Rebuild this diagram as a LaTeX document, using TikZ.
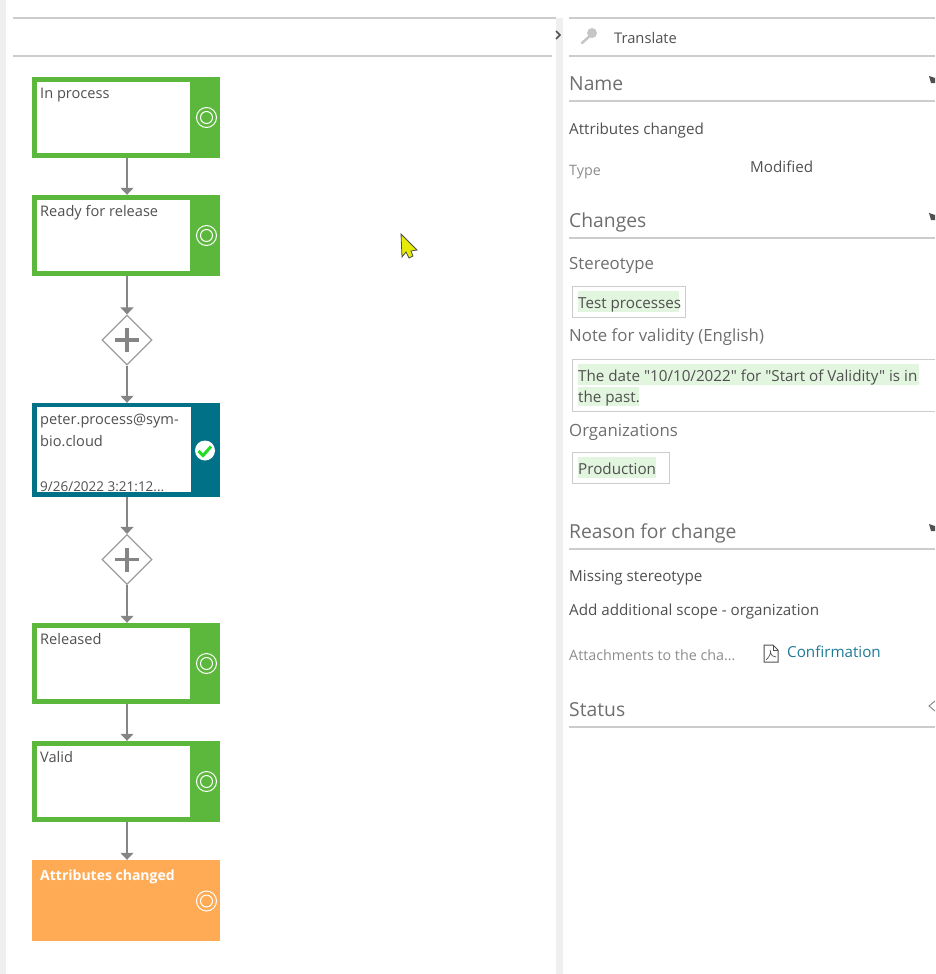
\documentclass[tikz,border=0pt]{standalone}
\usepackage{fontspec}
\setmainfont[Ligatures=TeXOff]{Open Sans}
\usetikzlibrary{arrows.meta,shapes.geometric}
\definecolor{stepgreen}{HTML}{5CB83C}
\definecolor{stepblue}{HTML}{007186}
\definecolor{steporange}{HTML}{FFAB55}
\definecolor{flowgray}{HTML}{858585}
\definecolor{rulegray}{HTML}{CCCCCC}
\definecolor{stripgray}{HTML}{EFEFEF}
\definecolor{txtgray}{HTML}{505050}
\definecolor{headgray}{HTML}{6E6E6E}
\definecolor{lightgray}{HTML}{8C8C8C}
\definecolor{hlgreen}{HTML}{E2F5DF}
\definecolor{linkblue}{HTML}{1F7A96}
\definecolor{checkgreen}{HTML}{22DD22}
\tikzset{
	stepbox/.style={minimum width=188pt, minimum height=81pt, inner sep=0pt, fill=#1},
	innerbox/.style={minimum width=152.5pt, minimum height=70.5pt, inner sep=0pt, fill=white},
	flow/.style={flowgray, line width=1.2pt, -{Triangle[width=13pt,length=7pt]}},
	gate/.style={diamond, draw=flowgray!80, line width=1.2pt, fill=white, minimum width=50pt, minimum height=50pt, inner sep=0pt},
	txt/.style={anchor=base west, inner sep=0pt, text=txtgray, font=\fontsize{15.2}{15.2}\selectfont},
	steptxt/.style={txt, font=\fontsize{14.6}{14.6}\selectfont},
	head/.style={txt, text=headgray, font=\fontsize{19.3}{19.3}\selectfont},
	sublabel/.style={txt, text=headgray, font=\fontsize{16.8}{16.8}\selectfont},
	dimlabel/.style={txt, text=lightgray, font=\fontsize{14.3}{14.3}\selectfont},
	rulefine/.style={rulegray, line width=1.2pt},
	valuebox/.style={draw=rulegray, line width=.9pt, fill=white},
	ring/.style={white, line width=1pt}
}
\begin{document}
\begin{tikzpicture}[x=1pt,y=-1pt]
	\useasboundingbox (0,0) rectangle (935,974);

	% side strips and top rules
	\fill[stripgray] (0,0) rectangle (6,974);
	\fill[stripgray] (556,18) rectangle (563,974);
	\draw[rulefine] (13,18) -- (556,18);
	\draw[rulefine] (569,18) -- (935,18);
	\draw[rulefine] (13,56) -- (552,56);
	\draw[rulefine] (569,56) -- (935,56);
	\draw[txtgray, line width=1.6pt] (556,31) -- (560,35) -- (556,39);

	% green steps
	\foreach \name/\ypos/\lbl in {inprocess/117.5/In process, ready/235.5/Ready for release, released/663.5/Released, valid/781.5/Valid}{
		\node[stepbox=stepgreen] (\name) at (126,\ypos) {};
		\node[innerbox] (\name in) at (113.5,\ypos) {};
		\node[steptxt] (\name txt) at (40,\ypos-19.5) {\lbl};
		\draw[ring] (206.5,\ypos) circle (10);
		\draw[ring] (206.5,\ypos) circle (6);
	}

	% approval step
	\node[stepbox=stepblue, minimum height=94pt] (approve) at (126,450) {};
	\node[innerbox, minimum width=154pt, minimum height=85pt] (approvein) at (114,449.5) {};
	\node[steptxt] (mail) at (40,424) {peter.process@sym-};
	\node[steptxt] (maild) at (40,446) {bio.cloud};
	\node[steptxt, font=\fontsize{13.5}{13.5}\selectfont] (date) at (40,491) {9/26/2022 3:21:12...};
	\fill[stepblue] (32,492) rectangle (220,497);
	\fill[white] (205,450.5) circle (10);
	\draw[checkgreen, line width=3pt] (198.5,451) -- (203,455.5) -- (211,446.5);

	% end step
	\node[stepbox=steporange] (changed) at (126,900.5) {};
	\node[steptxt, text=white, font=\fontsize{14}{14}\selectfont\bfseries] (changedtxt) at (40,880) {Attributes changed};
	\draw[ring] (206.5,901) circle (10);
	\draw[ring] (206.5,901) circle (6);

	% gates
	\node[gate] (gatea) at (127,340) {};
	\node[gate] (gateb) at (127,559.5) {};
	\foreach \g in {gatea,gateb}{
		\draw[flowgray, line width=3.6pt] ([xshift=-12pt]\g.center) -- ([xshift=12pt]\g.center);
		\draw[flowgray, line width=3.6pt] ([yshift=-12pt]\g.center) -- ([yshift=12pt]\g.center);
	}

	% connectors
	\foreach \a/\b in {inprocess/ready, ready/gatea, approve/gateb, released/valid, valid/changed}
		\draw[flow] (\a.south -| gatea) -- (\b.north -| gatea);
	\draw[flow] (gatea.south) -- (approve.north -| gatea);
	\draw[flow] (gateb.south) -- (released.north -| gatea);

	% mouse cursor
	\draw[fill=yellow!90!green, draw=black!70, line width=.8pt] (401,234) -- (417,250) -- (411,251) -- (413,256) -- (409,258) -- (406,252) -- (402,257) -- cycle;

	% right panel
	\draw[lightgray!50, line width=2.5pt, line cap=round] (582,43) -- (591,35);
	\fill[lightgray!50] (592,33) circle (5);
	\node[txt, font=\fontsize{14.7}{14.7}\selectfont] (translate) at (614,44) {Translate};

	\node[head] (hname) at (569,90) {Name};
	\draw[rulefine] (569,101) -- (935,101);
	\fill[txtgray] (929,76) -- (935,78) -- (935,83) -- (931,83) -- cycle;
	\node[txt] (attr) at (569,134) {Attributes changed};
	\node[dimlabel] (typelbl) at (569,175) {Type};
	\node[txt] (modified) at (750,172) {Modified};

	\node[head] (hchanges) at (569,227) {Changes};
	\draw[rulefine] (569,238) -- (935,238);
	\fill[txtgray] (929,213) -- (935,215) -- (935,220) -- (931,220) -- cycle;
	\node[sublabel] (stereo) at (569,269) {Stereotype};
	\draw[valuebox] (572,286) rectangle (685,317);
	\fill[hlgreen] (578,291) rectangle (679,312);
	\node[txt] (testproc) at (578,308) {Test processes};

	\node[sublabel] (note) at (569,341) {Note for validity (English)};
	\draw[rulegray, line width=.9pt] (935,359) -- (572,359) -- (572,411) -- (935,411);
	\fill[hlgreen] (578,364) rectangle (919,385);
	\fill[hlgreen] (578,387) rectangle (639,406);
	\node[txt] (notea) at (578,381) {The date "10/10/2022" for "Start of Validity" is in};
	\node[txt] (noteb) at (578,402) {the past.};

	\node[sublabel] (orgs) at (569,436) {Organizations};
	\draw[valuebox] (572,452) rectangle (669,483);
	\fill[hlgreen] (578,457) rectangle (656,478);
	\node[txt] (prod) at (578,474) {Production};

	\node[head] (hreason) at (569,538) {Reason for change};
	\draw[rulefine] (569,549) -- (935,549);
	\fill[txtgray] (929,524) -- (935,526) -- (935,531) -- (931,531) -- cycle;
	\node[txt] (missing) at (569,581) {Missing stereotype};
	\node[txt] (addscope) at (569,615) {Add additional scope - organization};
	\node[dimlabel] (attach) at (569,660) {Attachments to the cha...};
	\draw[txtgray, line width=1pt] (764,645) -- (773,645) -- (778,650) -- (778,662) -- (764,662) -- cycle;
	\draw[txtgray, line width=.7pt] (773,645) -- (773,650) -- (778,650);
	\draw[txtgray, line width=.7pt] (766,660) .. controls (771,655) and (771,652) .. (770,650) .. controls (771,656) and (773,657) .. (776,657);
	\node[txt, text=linkblue] (confirm) at (787,657) {Confirmation};

	\node[head] (hstatus) at (569,716) {Status};
	\draw[rulefine] (569,727) -- (935,727);
	\draw[lightgray, line width=1pt] (935,701) -- (929,706) -- (935,711);
\end{tikzpicture}
\end{document}
